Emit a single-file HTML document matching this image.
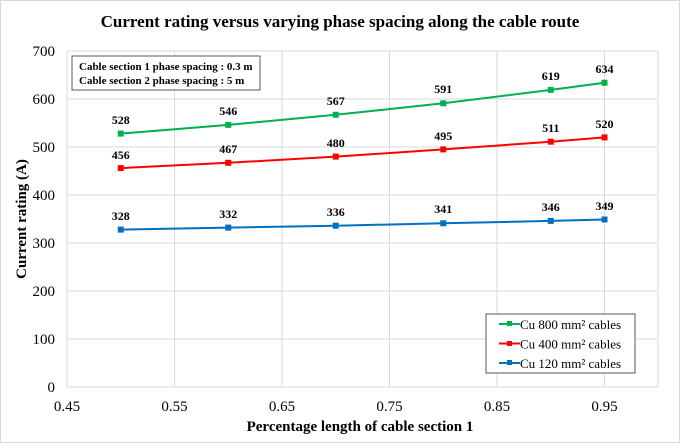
<!DOCTYPE html>
<html><head><meta charset="utf-8"><style>body{margin:0;background:#fff}</style></head><body>
<svg width="680" height="443" xmlns="http://www.w3.org/2000/svg" font-family="Liberation Serif, serif">
<rect x="0.5" y="0.5" width="679" height="442" fill="#fff" stroke="#d9d9d9"/>
<text x="340" y="27" text-anchor="middle" font-size="17" font-weight="bold">Current rating versus varying phase spacing along the cable route</text>
<g stroke="#d9d9d9" stroke-width="1">
<line x1="67" x2="658" y1="51" y2="51"/><line x1="67" x2="658" y1="99" y2="99"/><line x1="67" x2="658" y1="147" y2="147"/><line x1="67" x2="658" y1="195" y2="195"/><line x1="67" x2="658" y1="243" y2="243"/><line x1="67" x2="658" y1="291" y2="291"/><line x1="67" x2="658" y1="339" y2="339"/>
<line x1="174.5" x2="174.5" y1="51" y2="387"/><line x1="282" x2="282" y1="51" y2="387"/><line x1="389.5" x2="389.5" y1="51" y2="387"/><line x1="497" x2="497" y1="51" y2="387"/><line x1="604.5" x2="604.5" y1="51" y2="387"/><line x1="658" x2="658" y1="51" y2="387"/>
<line x1="67" x2="67" y1="51" y2="387"/><line x1="67" x2="658" y1="387" y2="387"/>
</g>
<g font-size="15" text-anchor="end">
<text x="55" y="56">700</text><text x="55" y="104">600</text><text x="55" y="152">500</text><text x="55" y="200">400</text><text x="55" y="248">300</text><text x="55" y="296">200</text><text x="55" y="344">100</text><text x="55" y="392">0</text>
</g>
<g font-size="15" text-anchor="middle">
<text x="67" y="411">0.45</text><text x="174.5" y="411">0.55</text><text x="282" y="411">0.65</text><text x="389.5" y="411">0.75</text><text x="497" y="411">0.85</text><text x="604.5" y="411">0.95</text>
</g>
<text x="360" y="431" text-anchor="middle" font-size="15" font-weight="bold">Percentage length of cable section 1</text>
<text transform="translate(26,219) rotate(-90)" text-anchor="middle" font-size="15" font-weight="bold">Current rating (A)</text>
<rect x="72" y="56" width="188" height="34" fill="#fff" stroke="#595959"/>
<text x="79" y="70" font-size="11" font-weight="bold">Cable section 1 phase spacing : 0.3 m</text>
<text x="79" y="84" font-size="11" font-weight="bold">Cable section 2 phase spacing : 5 m</text>
<g stroke-width="2" fill="none">
<polyline stroke="#00b050" points="120.75,133.6 228.25,124.9 335.75,114.8 443.25,103.3 550.75,89.9 604.5,82.7"/>
<polyline stroke="#ff0000" points="120.75,168.1 228.25,162.8 335.75,156.6 443.25,149.4 550.75,141.7 604.5,137.4"/>
<polyline stroke="#0070c0" points="120.75,229.6 228.25,227.6 335.75,225.7 443.25,223.3 550.75,220.9 604.5,219.5"/>
</g>
<g fill="#00b050"><rect x="117.75" y="130.6" width="6" height="6"/><rect x="225.25" y="121.9" width="6" height="6"/><rect x="332.75" y="111.8" width="6" height="6"/><rect x="440.25" y="100.3" width="6" height="6"/><rect x="547.75" y="86.9" width="6" height="6"/><rect x="601.5" y="79.7" width="6" height="6"/></g>
<g fill="#ff0000"><rect x="117.75" y="165.1" width="6" height="6"/><rect x="225.25" y="159.8" width="6" height="6"/><rect x="332.75" y="153.6" width="6" height="6"/><rect x="440.25" y="146.4" width="6" height="6"/><rect x="547.75" y="138.7" width="6" height="6"/><rect x="601.5" y="134.4" width="6" height="6"/></g>
<g fill="#0070c0"><rect x="117.75" y="226.6" width="6" height="6"/><rect x="225.25" y="224.6" width="6" height="6"/><rect x="332.75" y="222.7" width="6" height="6"/><rect x="440.25" y="220.3" width="6" height="6"/><rect x="547.75" y="217.9" width="6" height="6"/><rect x="601.5" y="216.5" width="6" height="6"/></g>
<g font-size="12" font-weight="bold" text-anchor="middle">
<text x="120.75" y="124">528</text><text x="228.25" y="115">546</text><text x="335.75" y="105">567</text><text x="443.25" y="93">591</text><text x="550.75" y="80">619</text><text x="604.5" y="73">634</text>
<text x="120.75" y="159">456</text><text x="228.25" y="153">467</text><text x="335.75" y="147">480</text><text x="443.25" y="140">495</text><text x="550.75" y="132">511</text><text x="604.5" y="128">520</text>
<text x="120.75" y="220">328</text><text x="228.25" y="218">332</text><text x="335.75" y="216">336</text><text x="443.25" y="213">341</text><text x="550.75" y="211">346</text><text x="604.5" y="210">349</text>
</g>
<rect x="486" y="314" width="149" height="59" fill="#fff" stroke="#595959"/>
<g stroke-width="2"><line x1="499" x2="520" y1="324" y2="324" stroke="#00b050"/><line x1="499" x2="520" y1="343.5" y2="343.5" stroke="#ff0000"/><line x1="499" x2="520" y1="363" y2="363" stroke="#0070c0"/></g>
<rect x="507" y="321" width="5" height="5" fill="#00b050"/><rect x="507" y="341" width="5" height="5" fill="#ff0000"/><rect x="507" y="360" width="5" height="5" fill="#0070c0"/>
<g font-size="13"><text x="520" y="329">Cu 800 mm² cables</text><text x="520" y="348.5">Cu 400 mm² cables</text><text x="520" y="368">Cu 120 mm² cables</text></g>
</svg>
</body></html>
